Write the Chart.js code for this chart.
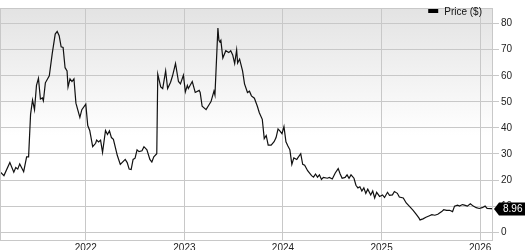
<!DOCTYPE html>
<html>
<head>
<meta charset="utf-8">
<script src="https://cdn.jsdelivr.net/npm/chart.js@4.4.1/dist/chart.umd.min.js"></script>
<style>
  html, body { margin: 0; padding: 0; background: #fff; }
  #wrap { width: 527px; height: 250px; position: relative; }
</style>
</head>
<body>
<div id="wrap"><canvas id="priceChart"></canvas></div>
<script>
// dates as decimal years
const dates = [
  2021.13, 2021.17, 2021.23, 2021.27, 2021.29, 2021.31, 2021.33, 2021.37, 2021.40, 2021.42,
  2021.44, 2021.46, 2021.48, 2021.50, 2021.52, 2021.54, 2021.56, 2021.57, 2021.59, 2021.63,
  2021.66, 2021.69, 2021.71, 2021.73, 2021.75, 2021.77, 2021.79, 2021.81, 2021.82, 2021.84,
  2021.86, 2021.88, 2021.90, 2021.94, 2021.96, 2022.00, 2022.02, 2022.04, 2022.07, 2022.10,
  2022.11, 2022.13, 2022.15, 2022.17, 2022.20, 2022.22, 2022.24, 2022.26, 2022.28, 2022.32,
  2022.35, 2022.40, 2022.42, 2022.44, 2022.46, 2022.48, 2022.50, 2022.52, 2022.54, 2022.57,
  2022.59, 2022.62, 2022.65, 2022.67, 2022.69, 2022.72, 2022.73, 2022.76, 2022.78, 2022.81,
  2022.83, 2022.86, 2022.88, 2022.91, 2022.94, 2022.96, 2022.99, 2023.01, 2023.03, 2023.04,
  2023.08, 2023.11, 2023.15, 2023.16, 2023.18, 2023.22, 2023.25, 2023.27, 2023.30, 2023.31,
  2023.34, 2023.35, 2023.36, 2023.37, 2023.39, 2023.42, 2023.45, 2023.47, 2023.49, 2023.51,
  2023.53, 2023.54, 2023.56, 2023.59, 2023.61, 2023.64, 2023.66, 2023.68, 2023.71, 2023.74,
  2023.76, 2023.79, 2023.81, 2023.83, 2023.85, 2023.88, 2023.91, 2023.93, 2023.95, 2023.97,
  2023.99, 2024.01, 2024.03, 2024.05, 2024.07, 2024.09, 2024.11, 2024.14, 2024.15, 2024.18,
  2024.20, 2024.22, 2024.25, 2024.29, 2024.31, 2024.33, 2024.35, 2024.37, 2024.39, 2024.41,
  2024.45, 2024.47, 2024.50, 2024.53, 2024.56, 2024.58, 2024.60, 2024.63, 2024.65, 2024.67,
  2024.69, 2024.72, 2024.74, 2024.76, 2024.78, 2024.80, 2024.82, 2024.84, 2024.86, 2024.89,
  2024.91, 2024.93, 2024.95, 2024.98, 2025.01, 2025.03, 2025.06, 2025.08, 2025.11, 2025.13,
  2025.16, 2025.18, 2025.22, 2025.25, 2025.29, 2025.32, 2025.35, 2025.38, 2025.39, 2025.42,
  2025.45, 2025.48, 2025.51, 2025.54, 2025.57, 2025.61, 2025.63, 2025.66, 2025.69, 2025.72,
  2025.74, 2025.77, 2025.79, 2025.82, 2025.84, 2025.87, 2025.90, 2025.93, 2025.96, 2025.99,
  2026.02, 2026.05, 2026.07, 2026.11, 2026.13
];
const prices = [
  23.2, 21.7, 26.7, 23.0, 24.8, 24.2, 26.2, 23.2, 28.9, 28.9,
  45.2, 50.7, 47.0, 56.3, 59.0, 51.1, 51.5, 50.4, 57.3, 60.0,
  68.6, 76.0, 77.0, 75.4, 71.1, 70.9, 63.1, 61.9, 55.7, 58.8,
  57.8, 58.8, 49.5, 44.0, 47.0, 49.1, 40.9, 39.0, 32.8, 34.1,
  35.3, 34.6, 35.3, 30.6, 39.0, 37.5, 38.9, 36.3, 35.6, 29.4,
  26.0, 27.9, 26.7, 24.2, 24.0, 27.9, 28.4, 31.6, 30.9, 31.2,
  32.8, 31.6, 27.9, 26.9, 28.9, 30.1, 60.6, 55.7, 55.1, 61.9,
  55.1, 57.5, 60.0, 64.7, 57.8, 56.9, 60.2, 53.8, 56.3, 55.1,
  57.8, 53.6, 54.4, 53.6, 48.3, 47.0, 48.9, 50.1, 54.1, 52.6,
  78.3, 73.6, 73.0, 73.6, 66.8, 69.6, 68.9, 69.6, 68.0, 64.7,
  69.9, 64.9, 66.4, 61.9, 56.9, 53.6, 54.1, 52.3, 51.4, 48.3,
  45.8, 43.3, 35.9, 37.1, 33.4, 33.4, 34.7, 36.3, 39.6, 38.8,
  37.8, 40.5, 34.7, 33.1, 31.6, 26.0, 28.5, 27.9, 28.5, 30.1,
  26.0, 25.7, 23.6, 21.7, 21.1, 22.3, 21.1, 22.0, 20.2, 21.0,
  20.7, 21.0, 20.4, 22.7, 24.4, 22.3, 20.7, 21.0, 22.0, 20.7,
  22.0, 20.7, 18.0, 17.0, 17.4, 15.8, 17.0, 14.9, 16.5, 14.3,
  15.8, 13.1, 15.3, 13.7, 14.3, 13.3, 15.3, 14.1, 14.3, 15.6,
  14.9, 13.5, 13.1, 11.2, 9.6, 8.4, 6.9, 5.4, 4.7, 5.1,
  5.7, 6.2, 6.7, 6.5, 6.9, 7.9, 8.6, 8.4, 8.4, 7.9,
  10.0, 10.4, 10.0, 10.6, 10.4, 10.0, 10.9, 10.0, 9.4, 9.1,
  9.4, 10.0, 9.1, 9.0, 8.96
];
const yearLabels = [2022, 2023, 2024, 2025, 2026];
const priceTicks = [0, 10, 20, 30, 40, 50, 60, 70, 80];
const seriesLabel = 'Price ($)';

const FONT = '"Liberation Sans", Arial, Helvetica, sans-serif';
const GRID = '#c8c8c8';

// gray fade behind the plot, frame, legend and last-price tag
const plotDecor = {
  id: 'plotDecor',
  beforeDraw(chart) {
    const { ctx, chartArea: a } = chart;
    const g = ctx.createLinearGradient(0, a.top, 0, a.bottom);
    g.addColorStop(0, '#e3e3e3');
    g.addColorStop(0.55, '#ffffff');
    g.addColorStop(1, '#ffffff');
    ctx.save();
    ctx.fillStyle = g;
    ctx.fillRect(a.left, a.top, a.right - a.left, a.bottom - a.top);
    ctx.restore();
  },
  afterDraw(chart) {
    const { ctx, chartArea: a, scales } = chart;
    ctx.save();
    ctx.strokeStyle = GRID;
    ctx.lineWidth = 1;
    ctx.strokeRect(a.left + 0.5, a.top + 0.5, a.right - a.left - 1, a.bottom - a.top);

    // legend
    const label = chart.data.datasets[0].label;
    ctx.font = '10px ' + FONT;
    ctx.textBaseline = 'middle';
    ctx.textAlign = 'left';
    const tw = ctx.measureText(label).width;
    const tx = a.right - 11 - tw;
    ctx.fillStyle = '#000';
    ctx.fillRect(tx - 16, 9, 10, 4);
    ctx.fillStyle = '#111';
    ctx.fillText(label, tx, 12);

    // last value tag
    const last = prices[prices.length - 1];
    const y = Math.round(scales.y.getPixelForValue(last));
    const x0 = a.right + 1, h = 6.5;
    ctx.fillStyle = '#000';
    ctx.beginPath();
    ctx.moveTo(x0, y);
    ctx.lineTo(x0 + 5, y - h);
    ctx.lineTo(525, y - h);
    ctx.lineTo(525, y + h);
    ctx.lineTo(x0 + 5, y + h);
    ctx.closePath();
    ctx.fill();
    ctx.fillStyle = '#fff';
    ctx.fillText(last.toFixed(2), x0 + 9, y + 0.5);
    ctx.restore();
  }
};

new Chart(document.getElementById('priceChart'), {
  type: 'line',
  data: {
    datasets: [{
      label: seriesLabel,
      data: dates.map((d, i) => ({ x: d, y: prices[i] })),
      borderColor: '#111',
      borderWidth: 1.2,
      pointRadius: 0,
      tension: 0,
      fill: false
    }]
  },
  options: {
    responsive: true,
    maintainAspectRatio: false,
    animation: false,
    layout: { padding: 0, autoPadding: false },
    plugins: {
      legend: { display: false },
      tooltip: { enabled: false }
    },
    scales: {
      x: {
        type: 'linear',
        min: 2021.13,
        max: 2026.13,
        afterBuildTicks: s => { s.ticks = yearLabels.map(v => ({ value: v })); },
        afterFit: s => { s.height = 10; },
        grid: { color: GRID, drawTicks: false },
        border: { display: false },
        ticks: {
          padding: 2,
          autoSkip: false,
          maxRotation: 0,
          color: '#222',
          font: { size: 10, family: FONT },
          callback: v => String(v)
        }
      },
      y: {
        position: 'right',
        min: -3,
        max: 86,
        afterBuildTicks: s => { s.ticks = priceTicks.map(v => ({ value: v })); },
        afterFit: s => { s.width = 34; },
        grid: { color: GRID, tickLength: 6 },
        border: { display: false },
        ticks: {
          padding: 2,
          color: '#222',
          font: { size: 10, family: FONT },
          callback: v => String(v)
        }
      }
    }
  },
  plugins: [plotDecor]
});
</script>
</body>
</html>
